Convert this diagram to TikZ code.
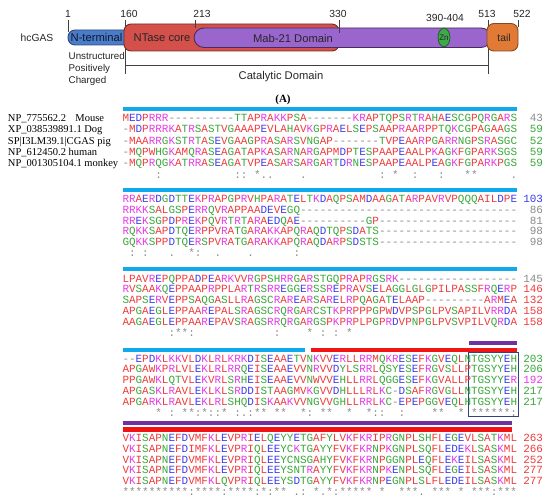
\documentclass[tikz,border=0pt]{standalone}
\usepackage{fontspec}
\usetikzlibrary{shapes.geometric}
\setmainfont{Liberation Serif}
\newfontfamily\diafont{Liberation Sans}
\newfontfamily\seqfont{Liberation Mono}
\definecolor{aaR}{HTML}{F03C3C}
\definecolor{aaB}{HTML}{3C3CF0}
\definecolor{aaM}{HTML}{E63CE6}
\definecolor{aaG}{HTML}{3AA83A}
\definecolor{aaGr}{HTML}{8C8C8C}
\definecolor{consgrey}{HTML}{8A8A8A}
\definecolor{barblue}{HTML}{12A8EE}
\definecolor{barred}{HTML}{F01414}
\definecolor{barpurple}{HTML}{7030A0}
\definecolor{boxnavy}{HTML}{33437F}
\definecolor{ntblue}{HTML}{4A7CC9}
\definecolor{ntred}{HTML}{D4504A}
\definecolor{ntpurple}{HTML}{9A66CE}
\definecolor{ntgreen}{HTML}{3DAA4A}
\definecolor{ntorange}{HTML}{E07A35}
\makeatletter
\def\aa@def#1#2{\ifx\relax#2\expandafter\@gobble\else\expandafter\@firstofone\fi{\expandafter\def\csname aa@c@#2\endcsname{\color{#1}}\aa@def{#1}}}
\aa@def{aaR}AVFPMILW\relax
\aa@def{aaB}DE\relax
\aa@def{aaM}RK\relax
\aa@def{aaG}STYHCNGQ\relax
\aa@def{aaGr}-\relax
\def\seqrow#1{\seq@loop#1\relax}
\def\seq@loop#1{\ifx\relax#1\expandafter\@gobble\else\expandafter\@firstofone\fi{{\csname aa@c@#1\endcsname #1}\seq@loop}}
\def\consrow#1{\cons@loop#1\relax}
\def\cons@loop#1{\ifx\relax#1\expandafter\@gobble\else\expandafter\@firstofone\fi{\ifx b#1\hphantom{*}\else#1\fi\cons@loop}}
\makeatother
\def\xo{122.5}
\newcommand\seqline[5]{%
  \node[seqtxt] (#1) at (\xo,#2+3.6) {\seqrow{#3}};
  \node[numtxt,text=#5] (#1n) at (543,#2+3.6) {#4};}
\newcommand\consline[3]{\node[seqtxt,text=consgrey] (#1) at (\xo,#2+3.6) {\consrow{#3}};}
\begin{document}
\begin{tikzpicture}[x=1pt,y=-1pt,
  seqtxt/.style={anchor=base west,inner sep=0pt,outer sep=0pt,font=\seqfont\fontsize{10.96}{12}\selectfont},
  numtxt/.style={anchor=base east,inner sep=0pt,outer sep=0pt,font=\seqfont\fontsize{10.96}{12}\selectfont},
  nametxt/.style={anchor=base west,inner sep=0pt,outer sep=0pt,font=\fontsize{10.5}{12}\selectfont},
  dlabel/.style={inner sep=0pt,text=black!85,font=\diafont\fontsize{10.3}{12}\selectfont},
  dbig/.style={inner sep=0pt,text=black!85,font=\diafont\fontsize{11.2}{13}\selectfont},
  tickline/.style={draw=black!75,line width=0.9pt},
  nbox/.style={fill=ntblue,draw=ntblue!60!black,line width=0.9pt},
  rbox/.style={fill=ntred,draw=ntred!55!black,line width=0.9pt},
  pbox/.style={fill=ntpurple,draw=ntpurple!45!black,line width=0.9pt},
  obox/.style={fill=ntorange,draw=ntorange!60!black,line width=0.9pt},
  zbox/.style={fill=ntgreen,draw=ntgreen!55!black,line width=0.8pt},
  hbar/.style={line width=4.5pt}]
\useasboundingbox (0,0) rectangle (550,502);
\fill[white] (0,0) rectangle (550,502);
% ---------- domain diagram ----------
\coordinate (t1a) at (68,20.5);   \coordinate (t1b) at (68,32);
\coordinate (t160a) at (125.5,20.5); \coordinate (t160b) at (125.5,74);
\coordinate (t513a) at (488,20.5); \coordinate (t513b) at (488,74);
\draw[tickline] (t1a) -- (t1b);
\draw[tickline] (t160a) -- (t160b);
\draw[tickline] (t513a) -- (t513b);
\draw[tickline] (125.5,65) -- (488,65);
\draw[nbox,rounded corners=7pt] (68,30) rectangle (132,45);
\draw[rbox,rounded corners=7pt] (124,24) rectangle (339,51);
\draw[pbox,rounded corners=10pt] (194,28) rectangle (491,47.5);
\draw[obox,rounded corners=7pt] (487,23.5) rectangle (518,51);
\node[zbox,ellipse,minimum width=12pt,minimum height=18.5pt,inner sep=0pt] (zn) at (444,37.5) {};
\node[inner sep=0pt,text=black!85,font=\diafont\fontsize{8}{9}\selectfont] (znl) at (zn) {Zn};
\draw[tickline] (195,20.5) -- (195,28.5);
\draw[tickline] (339,20.5) -- (339,33);
\draw[tickline] (518,20.5) -- (518,27);
\node[dlabel] (l1) at (68,13.5) {1};
\node[dlabel] (l160) at (129,13.5) {160};
\node[dlabel] (l213) at (202,13.5) {213};
\node[dlabel] (l330) at (338,13.5) {330};
\node[dlabel] (l390) at (445,17.5) {390-404};
\node[dlabel] (l513) at (487,13.5) {513};
\node[dlabel] (l522) at (522,13.5) {522};
\node[dlabel] (hc) at (37,37.5) {hcGAS};
\node[dbig,text=black!80!ntblue] (ntl) at (96.5,38) {N-terminal};
\node[dbig] (ntc) at (162,37.5) {NTase core};
\node[dbig] (mab) at (293,38.5) {Mab-21 Domain};
\node[dlabel] (tail) at (504,37.5) {tail};
\node[dlabel,anchor=west,align=left,font=\diafont\fontsize{9.8}{12}\selectfont] (uns) at (68.5,69) {Unstructured\\Positively\\Charged};
\node[dbig] (cat) at (281,77) {Catalytic Domain};
\node[inner sep=0pt,font=\bfseries\fontsize{11}{12}\selectfont] (A) at (283,100) {(A)};
% ---------- bars ----------
\draw[hbar,barblue] (122.5,109) -- (517,109);
\draw[hbar,barblue] (122.5,190) -- (517,190);
\draw[hbar,barblue] (122.5,269) -- (517,269);
\draw[hbar,barblue] (122.5,350) -- (305,350);
\draw[hbar,barred] (311,350) -- (517,350);
\draw[hbar,barpurple] (469,343) -- (517,343);
\draw[hbar,barpurple] (122.5,423) -- (512,423);
\draw[hbar,barred] (122.5,429.5) -- (512,429.5);
\draw[boxnavy,line width=1pt] (468.5,352.5) rectangle (518,417);
% ---------- names ----------
\node[nametxt] (n1) at (8,121.6) {NP\_775562.2\hspace{0.9em}Mouse};
\node[nametxt] (n2) at (8,132.9) {XP\_038539891.1 Dog};
\node[nametxt] (n3) at (8,144.2) {SP|I3LM39.1|CGAS pig};
\node[nametxt] (n4) at (8,155.5) {NP\_612450.2 human};
\node[nametxt] (n5) at (8,166.8) {NP\_001305104.1 monkey};
% ---------- block 1 ----------
\seqline{a1}{118}{MEDPRRR----------TTAPRAKKPSA-------KRAPTQPSRTRAHAESCGPQRGARS}{43}{consgrey}
\seqline{a2}{129.3}{-MDPRRRKATRSASTVGAAAPEVLAHAVKGPRAELSEPSAAPRAARPPTQKCGPAGAAGS}{59}{aaG}
\seqline{a3}{140.6}{-MAARRGKSTRTASEVGAAGPRASARSVNGAP-------TVPEAARPGARRNGPSRASGC}{52}{aaG}
\seqline{a4}{151.9}{-MQPWHGKAMQRASEAGATAPKASARNARGAPMDPTESPAAPEAALPKAGKFGPARKSGS}{59}{aaG}
\seqline{a5}{163.2}{-MQPRQGKATRRASEAGATVPEASARSARGARTDRNESPAAPEAALPEAGKFGPARKPGS}{59}{aaG}
\consline{ac}{174.5}{bbbbb:bbbbbbbbbbb::b*..bbbb.bbbbbbbbbbb:b*bb:bbb:bbb**bbbbb.}
% ---------- block 2 ----------
\seqline{b1}{199}{RRAERDGDTTEKPRAPGPRVHPARATELTKDAQPSAMDAAGATARPAVRVPQQQAILDPE}{103}{aaB}
\seqline{b2}{209.8}{RRKKSALGSPERRQVRAPPAADEVEGQ---------------------------------}{86}{consgrey}
\seqline{b3}{220.6}{RREKSGPDPREKPQVRTRTARAEDQAE----------GP---------------------}{81}{consgrey}
\seqline{b4}{231.4}{RQKKSAPDTQERPPVRATGARAKKAPQRAQDTQPSDATS---------------------}{98}{consgrey}
\seqline{b5}{242.2}{GQKKSPPDTQERSPVRATGARAKKAPQRAQDARPSDSTS---------------------}{98}{consgrey}
\consline{bc}{253}{b:b:bbb.bb*:bb.bbbb.bbbbbb:bbbbbbbbbbbbbbbbbbbbbbbbbbbbbbbbb}
% ---------- block 3 ----------
\seqline{c1}{278.5}{LPAVREPQPPADPEARKVVRGPSHRRGARSTGQPRAPRGSRK------------------}{145}{consgrey}
\seqline{c2}{289.4}{RVSAAKQEPPAAPRPPLARTRSRREGGERSSREPRAVSELAGGLGLGPILPASSFRQERP}{146}{aaR}
\seqline{c3}{300.3}{SAPSERVEPPSAQGASLLRAGSCRAREARSARELRPQAGATELAAP---------ARMEA}{132}{aaR}
\seqline{c4}{311.2}{APGAEGLEPPAAREPALSRAGSCRQRGARCSTKPRPPPGPWDVPSPGLPVSAPILVRRDA}{158}{aaR}
\seqline{c5}{322.1}{AAGAEGLEPPAAREPAVSRAGSRRQRGARGSPKPRPLPGPRDVPNPGLPVSVPILVQRDA}{158}{aaR}
\consline{cc}{333}{bbbbbbb:**:bbbbbbbbbbbb:bbbb*b:b:b*bbbbbbbbbbbbbbbbbbbbbbbbb}
% ---------- block 4 ----------
\seqline{d1}{358.5}{--EPDKLKKVLDKLRLKRKDISEAAETVNKVVERLLRRMQKRESEFKGVEQLNTGSYYEH}{203}{aaG}
\seqline{d2}{369.3}{APGAWKPRLVLEKLRLRRQEISEAAEVVNRVVDYLSRRLQSYESEFRGVSLLPTGSYYEH}{206}{aaG}
\seqline{d3}{380.1}{PPGAWKLQTVLEKVRLSRHEISEAAEVVNWVVEHLLRRLQGGESEFKGVALLPTGSYYER}{192}{aaM}
\seqline{d4}{390.9}{APGASKLRAVLEKLKLSRDDISTAAGMVKGVVDHLLLRLKC-DSAFRGVGLLNTGSYYEH}{217}{aaG}
\seqline{d5}{401.7}{APGARKLRAVLEKLRLSHQDISKAAKVVNGVVGHLLRRLKC-EPEPGGVEQLHTGSYYEH}{217}{aaG}
\consline{dc}{412.5}{bbbbb*b:b**:*::*b:.:**b**bb*:b**bb*bb*::bb:bbbb**bb*b******:}
% ---------- block 5 ----------
\seqline{e1}{438}{VKISAPNEFDVMFKLEVPRIELQEYYETGAFYLVKFKRIPRGNPLSHFLEGEVLSATKML}{263}{aaR}
\seqline{e2}{448.8}{VKISAPNEFDIMFKLEVPRIQLEEYCKTGAYYFVKFKRNPKGNPLSQFLEDEKLSASKML}{266}{aaR}
\seqline{e3}{459.6}{VKISAPNEFDVMFKLEVPRIQLEEYCNSGAHYFVKFKRNPGGNPLEQFLEKEILSASKML}{252}{aaR}
\seqline{e4}{470.4}{VKISAPNEFDVMFKLEVPRIQLEEYSNTRAYYFVKFKRNPKENPLSQFLEGEILSASKML}{277}{aaR}
\seqline{e5}{481.2}{VKISAPNEFDVMFKLQVPRIQLEEYSDTGAYYFVKFKRNPEGNPLSLFLEDEILSASKML}{277}{aaR}
\consline{ec}{492}{**********:****:****:*:**b.:b*.*:*****b*bb***.b***b*b***:***}
\end{tikzpicture}
\end{document}
